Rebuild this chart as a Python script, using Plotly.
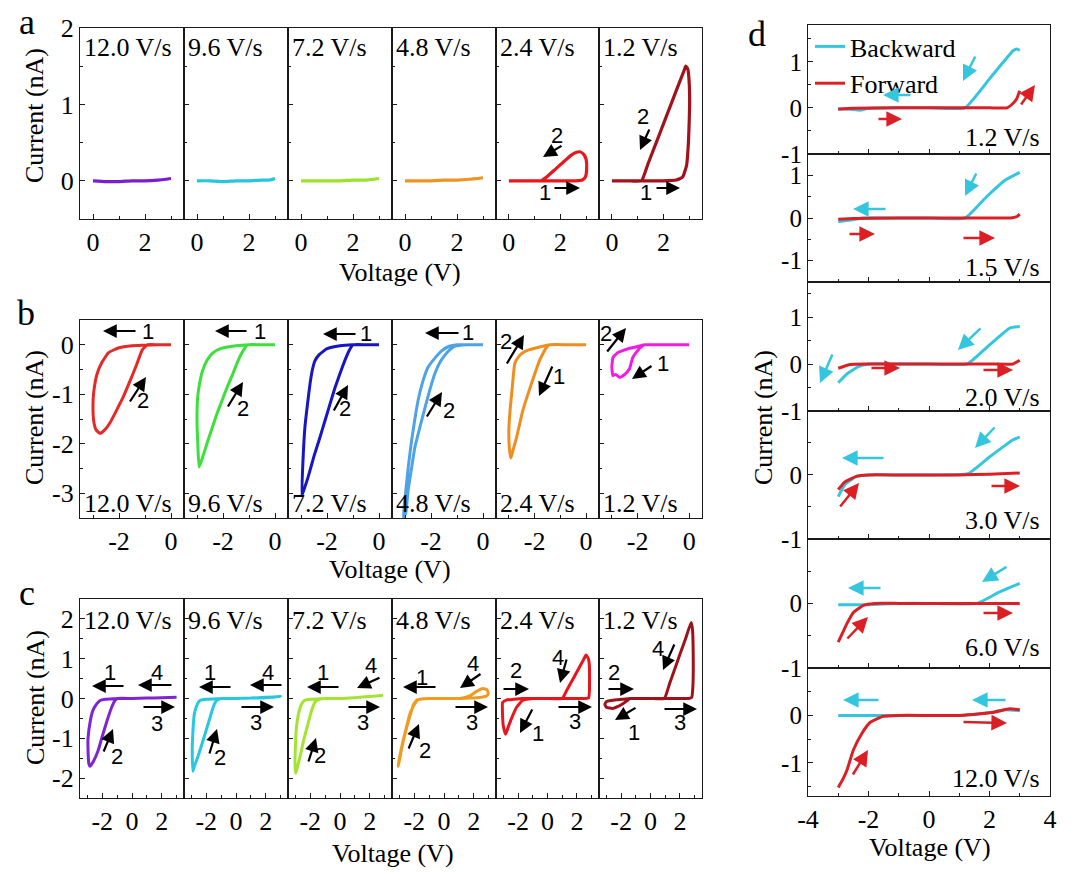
import plotly.graph_objects as go

W, H = 1080, 872

# ---------------- data: panel a (forward sweep 0 -> 3 V) ----------------
a_speeds = ["12.0 V/s", "9.6 V/s", "7.2 V/s", "4.8 V/s", "2.4 V/s", "1.2 V/s"]
a_colors = ["#7A1FD0", "#27C6DF", "#9BE22B", "#EE9420", "#E8171C", "#A3121B"]
a_volt = [
    [0, 0.5, 1, 1.5, 2, 2.5, 2.8, 3.0],
    [0, 0.5, 1, 1.5, 2, 2.5, 2.8, 3.0],
    [0, 0.5, 1, 1.5, 2, 2.5, 2.8, 3.0],
    [0, 0.5, 1, 1.5, 2, 2.5, 2.8, 3.0],
    [0, 1, 2, 2.6, 2.85, 2.97, 3.02, 3.0, 2.9, 2.75, 2.6, 2.4, 2.1, 1.8, 1.5, 1.25, 1.0, 0.5, 0],
    [0, 1, 2, 2.5, 2.75, 2.9, 2.98, 3.02, 3.0, 2.95, 2.87, 2.8, 2.5, 2.1, 1.7, 1.4, 1.15, 0.6, 0],
]
a_curr = [
    [0, -0.01, -0.01, 0, 0, 0.01, 0.02, 0.03],
    [0, 0, -0.01, 0, 0, 0.01, 0.01, 0.03],
    [0, 0, 0, 0, 0.01, 0.01, 0.02, 0.03],
    [0, 0, 0, 0.01, 0.01, 0.02, 0.03, 0.04],
    [0, 0, 0, 0, 0.01, 0.05, 0.15, 0.28, 0.35, 0.38, 0.37, 0.33, 0.24, 0.15, 0.06, 0.0, 0, 0, 0],
    [0, 0, 0, 0.01, 0.05, 0.2, 0.55, 1.0, 1.3, 1.46, 1.5, 1.44, 1.18, 0.83, 0.48, 0.22, 0, 0, 0],
]

# ---------------- data: panel b (negative sweep 0 -> -3 V) ----------------
b_speeds = ["12.0 V/s", "9.6 V/s", "7.2 V/s", "4.8 V/s", "2.4 V/s", "1.2 V/s"]
b_colors = ["#E42A26", "#3BE03B", "#1616C2", "#4DA3E6", "#F08D1F", "#F21BE6"]
b_volt = [
    [0, -0.5, -1.0, -1.5, -2.0, -2.4, -2.65, -2.85, -2.97, -3.0, -2.97, -2.88, -2.73, -2.55, -2.35, -2.1, -1.85, -1.6, -1.35, -1.1, -0.9, -0.5, 0],
    [0, -0.5, -1.0, -1.5, -2.1, -2.4, -2.62, -2.8, -2.9, -2.98, -3.0, -2.97, -2.92, -2.8, -2.62, -2.43, -2.23, -2.04, -1.85, -1.63, -1.42, -1.2, -1.04, -0.6, 0],
    [0, -0.5, -1.0, -1.5, -2.0, -2.3, -2.46, -2.56, -2.65, -2.75, -2.85, -2.92, -2.97, -2.9, -2.73, -2.5, -2.27, -2.07, -1.88, -1.7, -1.5, -1.3, -1.15, -1.0, -0.5, 0],
    [0, -0.6, -1.0, -1.3, -1.58, -1.85, -2.12, -2.32, -2.5, -2.62, -2.75, -2.87, -2.97, -3.07, -2.97, -2.88, -2.75, -2.62, -2.42, -2.23, -2.04, -1.85, -1.65, -1.45, -1.27, -1.1, -0.6, 0],
    [0, -0.7, -1.42, -1.55, -1.81, -2.12, -2.46, -2.7, -2.85, -2.92, -2.98, -3.0, -2.95, -2.88, -2.77, -2.62, -2.46, -2.2, -1.92, -1.6, -1.42],
    [0, -0.8, -1.5, -1.73, -1.9, -2.0, -2.19, -2.31, -2.5, -2.69, -2.85, -2.96, -3.0, -2.96, -2.78, -2.58, -2.3, -2.04, -1.73],
]
b_curr = [
    [0, 0, -0.01, -0.02, -0.06, -0.16, -0.35, -0.6, -0.95, -1.2, -1.55, -1.72, -1.79, -1.72, -1.58, -1.33, -1.07, -0.76, -0.44, -0.1, 0, 0, 0],
    [0, 0, 0, -0.02, -0.08, -0.17, -0.32, -0.55, -0.78, -1.1, -1.53, -2.0, -2.47, -2.3, -2.0, -1.7, -1.39, -1.13, -0.87, -0.6, -0.32, -0.1, 0, 0, 0],
    [0, 0, 0, -0.02, -0.08, -0.2, -0.32, -0.5, -0.78, -1.2, -1.67, -2.3, -3.05, -2.95, -2.68, -2.25, -1.87, -1.52, -1.19, -0.88, -0.58, -0.3, -0.12, 0, 0, 0],
    [0, 0, 0, -0.03, -0.12, -0.27, -0.46, -0.75, -1.13, -1.5, -1.95, -2.45, -2.95, -3.5, -3.4, -2.94, -2.5, -2.07, -1.65, -1.27, -0.9, -0.58, -0.35, -0.2, -0.1, -0.03, 0, 0],
    [0, 0, 0, -0.06, -0.32, -0.78, -1.33, -1.87, -2.15, -2.29, -2.1, -1.73, -1.3, -0.93, -0.38, -0.24, -0.16, -0.1, -0.06, -0.02, 0],
    [0, 0, 0, 0, -0.06, -0.12, -0.26, -0.48, -0.6, -0.66, -0.6, -0.62, -0.46, -0.26, -0.16, -0.12, -0.07, -0.04, 0],
]

# ---------------- data: panel c (full sweep) ----------------
c_speeds = ["12.0 V/s", "9.6 V/s", "7.2 V/s", "4.8 V/s", "2.4 V/s", "1.2 V/s"]
c_colors = ["#7D24D4", "#26C8E0", "#A4E332", "#F09A22", "#E8161C", "#A0121A"]
c_volt = [
    [3.0, 2.0, 1.0, 0, -1.0, -1.14, -1.4, -1.68, -2.0, -2.29, -2.6, -2.83, -2.9, -2.96, -2.96, -2.8, -2.63, -2.4, -2.15, -1.8, -1.5, -1.0, 0, 1, 2, 3.0],
    [3.0, 2.0, 1.0, 0, -1.0, -1.3, -1.5, -1.75, -2.05, -2.38, -2.65, -2.85, -2.9, -2.94, -2.94, -2.88, -2.8, -2.6, -2.42, -2.0, -1.5, -1.0, 0, 1, 2, 3.0],
    [2.9, 2.0, 1.0, 0, -1.0, -1.4, -1.7, -1.95, -2.2, -2.45, -2.65, -2.85, -2.98, -3.03, -3.0, -2.95, -2.8, -2.6, -2.4, -2.0, -1.5, -1.0, 0, 1, 2, 2.9],
    [1.08, 0.5, 0, -1.0, -1.5, -1.75, -2.0, -2.29, -2.5, -2.76, -2.95, -3.1, -3.0, -2.85, -2.6, -2.3, -2.05, -1.8, -1.5, -1.0, 0, 1.08, 1.7, 2.2, 2.6, 2.85, 2.98, 2.9, 2.62, 2.2, 1.7, 1.08],
    [0, 1.0, 2.0, 2.6, 2.8, 2.85, 2.85, 2.78, 2.62, 2.4, 2.0, 1.6, 1.3, 1.0, 0, -1.0, -1.7, -2.3, -2.8, -3.05, -3.05, -3.0, -2.85, -2.7, -2.5, -2.1, -1.7, -1.0, 0],
    [0, 0.94, 2.0, 2.6, 2.8, 2.88, 2.9, 2.85, 2.76, 2.4, 2.0, 1.6, 1.3, 0.94, 0, -1.0, -1.41, -1.88, -2.3, -2.7, -3.0, -3.1, -3.0, -2.56, -2.2, -1.88, -1.6, -1.41, -1.0, 0],
]
c_curr = [
    [0.03, 0.02, 0.01, 0, 0, -0.05, -0.25, -0.56, -0.95, -1.32, -1.58, -1.7, -1.65, -1.3, -1.0, -0.55, -0.3, -0.15, -0.05, -0.02, -0.01, 0, 0, 0.01, 0.02, 0.03],
    [0.05, 0.03, 0.01, 0, 0, -0.05, -0.18, -0.48, -0.85, -1.25, -1.55, -1.75, -1.83, -1.5, -1.15, -0.7, -0.38, -0.14, -0.05, -0.02, -0.01, 0, 0, 0.01, 0.02, 0.05],
    [0.08, 0.05, 0.02, 0, 0, -0.02, -0.1, -0.35, -0.7, -1.05, -1.4, -1.7, -1.88, -1.6, -1.2, -0.8, -0.4, -0.15, -0.05, -0.02, -0.01, 0, 0, 0.02, 0.05, 0.08],
    [0, 0, 0, 0, -0.01, -0.03, -0.15, -0.38, -0.68, -1.07, -1.4, -1.7, -1.55, -1.25, -0.85, -0.45, -0.15, -0.03, -0.01, 0, 0, 0, 0.01, 0.02, 0.04, 0.06, 0.12, 0.22, 0.25, 0.18, 0.06, 0],
    [0, 0, 0, 0, 0.02, 0.2, 0.8, 1.0, 1.09, 0.94, 0.67, 0.4, 0.2, 0, 0, 0, 0, -0.02, -0.04, -0.1, -0.45, -0.7, -0.9, -0.75, -0.55, -0.22, -0.05, 0, 0],
    [0, 0, 0, 0, 0.03, 0.3, 1.2, 1.75, 1.91, 1.52, 1.11, 0.69, 0.38, 0, 0, 0, 0, -0.02, -0.03, -0.05, -0.08, -0.15, -0.22, -0.25, -0.2, -0.13, -0.06, 0, 0, 0],
]

# ---------------- data: panel d (backward / forward) ----------------
d_speeds = ["1.2 V/s", "1.5 V/s", "2.0 V/s", "3.0 V/s", "6.0 V/s", "12.0 V/s"]
d_back_volt = [
    [3.0, 2.9, 2.78, 2.0, 1.19, 0, -1.0, -2.0, -2.28, -2.6, -3.0],
    [3.0, 2.5, 1.92, 1.19, 0, -1, -2.2, -2.6, -3.0],
    [3.0, 2.68, 1.92, 1.26, 0, -1.0, -2.0, -2.35, -2.71, -3.0],
    [3.0, 2.78, 2.0, 1.29, 0, -1, -2.0, -2.38, -2.78, -3.0],
    [3.0, 2.3, 1.59, 0, -1, -2.0, -3.0],
    [3.0, 2.5, 2.0, 1.5, 1, 0, -1, -1.7, -3.0],
]
d_back_curr = [
    [1.25, 1.28, 1.24, 0.63, 0, 0, 0, -0.01, -0.05, -0.03, -0.02],
    [1.07, 0.88, 0.51, 0, 0, 0, 0, -0.05, -0.09],
    [0.8, 0.77, 0.36, 0, 0, 0, 0, -0.06, -0.21, -0.4],
    [0.59, 0.55, 0.28, 0.02, 0, 0, 0, -0.02, -0.15, -0.34],
    [0.31, 0.17, 0, 0, 0, -0.02, -0.02],
    [0.1, 0.12, 0.06, 0.02, 0.0, 0, 0, 0, 0],
]
d_fwd_volt = [
    [-3.0, -2.5, -1, 0, 1, 2, 2.58, 2.78, 2.9, 3.0],
    [-3.0, -2.5, -1, 0, 1, 2, 2.7, 2.9, 3.0],
    [-3.0, -2.6, -2.0, -1, 0, 1, 2, 2.78, 3.0],
    [-3.0, -2.78, -2.38, -2.0, -1, 0, 1, 2, 3.0],
    [-3.0, -2.85, -2.71, -2.5, -2.17, -1.8, -1, 0, 1, 2, 3.0],
    [-3.0, -2.85, -2.71, -2.5, -2.22, -1.95, -1.52, -1, 0, 1, 1.45, 2.1, 2.67, 3.0],
]
d_fwd_curr = [
    [-0.03, -0.01, 0, 0, 0, 0, 0.0, 0.1, 0.2, 0.37],
    [-0.03, -0.01, 0, 0, 0, 0, 0, 0.03, 0.09],
    [-0.09, -0.01, 0, 0, 0, 0, 0, 0.0, 0.08],
    [-0.23, -0.11, -0.02, 0, 0, 0, 0, 0.01, 0.03],
    [-0.6, -0.45, -0.31, -0.14, -0.03, 0, 0, 0, 0, 0, 0],
    [-1.52, -1.35, -1.15, -0.73, -0.38, -0.15, -0.02, 0, 0, 0, 0.02, 0.06, 0.14, 0.12],
]
d_yrange = [[-1.003, 1.8], [-1.5, 1.5], [-1.003, 1.75], [-1.003, 1.0], [-1.003, 1.0], [-1.7, 1.0]]
d_ytick = [[-1, 0, 1], [-1, 0, 1], [-1, 0, 1], [-1, 0], [-1, 0], [-1, 0]]
d_ytext = [["-1", "0", "1"], ["-1", "0", "1"], ["-1", "0", "1"], ["-1", "0"], ["-1", "0"], ["-1", "0"]]
d_xtick = [-4, -2, 0, 2, 4]
d_xtext = ["-4", "-2", "0", "2", "4"]
CYAN, RED = "#35C6DF", "#DC1F25"

# ---------------- layout geometry (pixels) ----------------
COL_L = [80, 184, 288, 392, 496, 599]
COL_R = [184, 288, 392, 496, 599, 702]
ROW_A, ROW_B, ROW_C = (28, 219), (320, 518), (599, 798)
D_X = (808, 1050)
D_ROWS = [25, 154, 282, 411, 539, 668, 796]

SERIF = "Liberation Serif, Times New Roman, serif"
SANS = "Liberation Sans, Arial, sans-serif"
INK = "#1a1a1a"

fig = go.Figure()
layout = {}
annotations = []


def px(x, y):
    return x / W, 1 - y / H


def axis(**kw):
    base = dict(showline=True, linecolor=INK, linewidth=1.1, mirror=True,
                ticks="inside", ticklen=5, tickwidth=1.2, tickcolor=INK,
                showgrid=False, zeroline=False, tickmode="array", automargin=False,
                tickfont=dict(family=SERIF, size=26, color="black"),
                fixedrange=True)
    base.update(kw)
    return base


def minor(vals):
    return dict(ticks="inside", ticklen=3, tickwidth=1.1, tickcolor=INK,
                tickmode="array", tickvals=vals)


counter = [0]


def add_axes(x0, x1, y0, y1, xkw, ykw):
    counter[0] += 1
    i = counter[0]
    s = "" if i == 1 else str(i)
    layout["xaxis" + s] = axis(domain=[x0 / W, x1 / W], anchor="y" + s, **xkw)
    layout["yaxis" + s] = axis(domain=[1 - y1 / H, 1 - y0 / H], anchor="x" + s, **ykw)
    return "x" + s, "y" + s


def text(t, x, y, size=26, family=SERIF, xanchor="center", angle=0, color="black"):
    xx, yy = px(x, y)
    annotations.append(dict(text=t, x=xx, y=yy, xref="paper", yref="paper",
                            showarrow=False, xanchor=xanchor, yanchor="middle",
                            textangle=angle, font=dict(family=family, size=size, color=color)))


def arrow(tail, head, color="black", width=2.2):
    hx, hy = px(*head)
    annotations.append(dict(text="", x=hx, y=hy, xref="paper", yref="paper",
                            ax=tail[0] - head[0], ay=tail[1] - head[1],
                            showarrow=True, arrowhead=2, arrowsize=1.25,
                            arrowwidth=width, arrowcolor=color))


def line_trace(xs, ys, xa, ya, color, width=3, name=None, legend=False):
    fig.add_trace(go.Scatter(x=xs, y=ys, xaxis=xa, yaxis=ya, mode="lines",
                             line=dict(color=color, width=width, shape="spline", smoothing=0.4),
                             name=name, showlegend=legend, hoverinfo="skip"))


# ---------------- panel a ----------------
for k in range(6):
    xa, ya = add_axes(COL_L[k], COL_R[k], ROW_A[0], ROW_A[1],
                      dict(range=[-0.5, 3.5], tickvals=[0, 2], ticktext=["0", "2"], minor=minor([1, 3])),
                      dict(range=[-0.5, 2.0], tickvals=[0, 1, 2], ticktext=["0", "1", "2"],
                           showticklabels=(k == 0), minor=minor([-0.5, 0.5, 1.5])))
    line_trace(a_volt[k], a_curr[k], xa, ya, a_colors[k], width=3.2)
    text(a_speeds[k], COL_L[k] + 2, 47, xanchor="left")

# ---------------- panel b ----------------
for k in range(6):
    xa, ya = add_axes(COL_L[k], COL_R[k], ROW_B[0], ROW_B[1],
                      dict(range=[-3.5, 0.5], tickvals=[-2, 0], ticktext=["-2", "0"], minor=minor([-3, -1])),
                      dict(range=[-3.5, 0.5], tickvals=[-3, -2, -1, 0], ticktext=["-3", "-2", "-1", "0"],
                           showticklabels=(k == 0), minor=minor([-2.5, -1.5, -0.5])))
    line_trace(b_volt[k], b_curr[k], xa, ya, b_colors[k], width=3)
    text(b_speeds[k], COL_L[k] + 2, 503, xanchor="left")

# ---------------- panel c ----------------
for k in range(6):
    xa, ya = add_axes(COL_L[k], COL_R[k], ROW_C[0], ROW_C[1],
                      dict(range=[-3.5, 3.5], tickvals=[-2, 0, 2], ticktext=["-2", "0", "2"],
                           minor=minor([-3, -1, 1, 3])),
                      dict(range=[-2.5, 2.5], tickvals=[-2, -1, 0, 1, 2], ticktext=["-2", "-1", "0", "1", "2"],
                           showticklabels=(k == 0), minor=minor([-1.5, -0.5, 0.5, 1.5])))
    line_trace(c_volt[k], c_curr[k], xa, ya, c_colors[k], width=3)
    text(c_speeds[k], COL_L[k] + 2, 620, xanchor="left")

# ---------------- panel d ----------------
for k in range(6):
    xa, ya = add_axes(D_X[0], D_X[1], D_ROWS[k], D_ROWS[k + 1],
                      dict(range=[-4, 4], tickvals=d_xtick, ticktext=d_xtext,
                           showticklabels=(k == 5), minor=minor([-3, -1, 1, 3])),
                      dict(range=d_yrange[k], tickvals=d_ytick[k], ticktext=d_ytext[k],
                           tickfont=dict(family=SERIF, size=25, color="black"),
                           minor=minor([-1.5, -0.5, 0.5, 1.5])))
    line_trace(d_back_volt[k], d_back_curr[k], xa, ya, CYAN, width=3,
               name="Backward", legend=(k == 0))
    line_trace(d_fwd_volt[k], d_fwd_curr[k], xa, ya, RED, width=3,
               name="Forward", legend=(k == 0))

d_label_y = [137, 267, 397, 520, 647, 778]
for k in range(6):
    text(d_speeds[k], 1042, d_label_y[k], xanchor="right")

# ---------------- titles and panel letters ----------------
text("a", 27, 22, size=36)
text("b", 26, 313, size=36)
text("c", 27, 593, size=36)
text("d", 757, 34, size=36)
for yc in (116, 418, 698):
    text("Current (nA)", 35, yc, angle=-90)
text("Current (nA)", 764, 418, angle=-90)
text("Voltage (V)", 400, 272)
text("Voltage (V)", 390, 569)
text("Voltage (V)", 393, 853)
text("Voltage (V)", 930, 847)

# ---------------- direction arrows and sweep numbers ----------------
black_arrows = [
    # panel a
    ((563, 145), (543, 157)), ((553, 188), (580, 188)),
    ((650, 128), (640, 150)), ((655, 188), (680, 188)),
    # panel b
    ((137, 331), (103, 331)), ((129, 403), (146, 377)),
    ((248, 331), (215, 331)), ((227, 408), (243, 382)),
    ((357, 334), (323, 334)), ((333, 412), (348, 385)),
    ((460, 333), (425, 333)), ((426, 418), (442, 392)),
    ((506, 365), (524, 335)), ((553, 365), (539, 396)),
    ((606, 353), (626, 328)), ((653, 365), (632, 379)),
    # panel c
    ((125, 686), (92, 686)), ((173, 685), (138, 685)), ((142, 707), (175, 707)), ((103, 753), (113, 729)),
    ((232, 687), (199, 687)), ((283, 685), (250, 685)), ((240, 707), (274, 707)), ((209, 755), (217, 729)),
    ((340, 687), (307, 687)), ((381, 677), (357, 688)), ((347, 707), (380, 707)), ((308, 763), (316, 738)),
    ((437, 687), (403, 687)), ((482, 673), (460, 688)), ((454, 707), (488, 707)), ((408, 750), (419, 724)),
    ((502, 689), (529, 689)), ((567, 658), (560, 683)), ((557, 707), (592, 707)), ((533, 708), (520, 733)),
    ((607, 689), (634, 689)), ((675, 643), (663, 670)), ((663, 709), (697, 709)), ((637, 707), (615, 720)),
]
for t, h in black_arrows:
    arrow(t, h)

numbers = [
    ("2", 557, 136), ("1", 545, 193), ("2", 643, 117), ("1", 646, 193),
    ("1", 148, 331), ("2", 143, 400), ("1", 260, 331), ("2", 243, 408),
    ("1", 366, 333), ("2", 345, 408), ("1", 468, 332), ("2", 449, 410),
    ("2", 506, 342), ("1", 559, 376), ("2", 606, 333), ("1", 663, 363),
    ("1", 110, 672), ("4", 157, 672), ("3", 157, 723), ("2", 117, 756),
    ("1", 210, 672), ("4", 268, 672), ("3", 256, 722), ("2", 220, 757),
    ("1", 323, 672), ("4", 371, 665), ("3", 363, 722), ("2", 320, 755),
    ("1", 422, 677), ("4", 473, 663), ("3", 472, 722), ("2", 425, 750),
    ("2", 516, 670), ("4", 558, 657), ("3", 575, 721), ("1", 538, 733),
    ("2", 614, 672), ("4", 658, 648), ("3", 680, 722), ("1", 634, 732),
]
for t, x, y in numbers:
    text(t, x, y, size=22, family=SANS)

cyan_arrows = [
    ((976, 55), (963, 81)), ((912, 95), (883, 95)),
    ((977, 172), (965, 196)), ((887, 209), (853, 209)),
    ((982, 327), (958, 350)), ((833, 353), (820, 383)),
    ((996, 426), (975, 448)), ((885, 458), (842, 458)),
    ((882, 588), (848, 588)), ((1008, 566), (982, 582)),
    ((880, 700), (843, 700)), ((1007, 700), (972, 700)),
]
red_arrows = [
    ((877, 119), (902, 119)), ((1020, 106), (1035, 85)),
    ((848, 234), (875, 234)), ((962, 238), (995, 238)),
    ((870, 368), (900, 368)), ((982, 370), (1013, 370)),
    ((990, 486), (1020, 486)), ((839, 508), (859, 483)),
    ((982, 613), (1013, 613)), ((846, 640), (868, 617)),
    ((962, 722), (1007, 723)), ((852, 776), (868, 750)),
]
for t, h in cyan_arrows:
    arrow(t, h, color=CYAN, width=2.5)
for t, h in red_arrows:
    arrow(t, h, color=RED, width=2.5)

lx, ly = px(810, 23)
layout.update(dict(
    width=W, height=H, margin=dict(l=0, r=0, t=0, b=0, autoexpand=False),
    paper_bgcolor="white", plot_bgcolor="white",
    annotations=annotations,
    showlegend=True,
    legend=dict(x=lx, y=ly, xanchor="left", yanchor="top",
                font=dict(family=SERIF, size=26, color="black"),
                bgcolor="rgba(0,0,0,0)", borderwidth=0, tracegroupgap=0,
                itemwidth=30),
))
fig.update_layout(**layout)
fig.write_html("out.html")
